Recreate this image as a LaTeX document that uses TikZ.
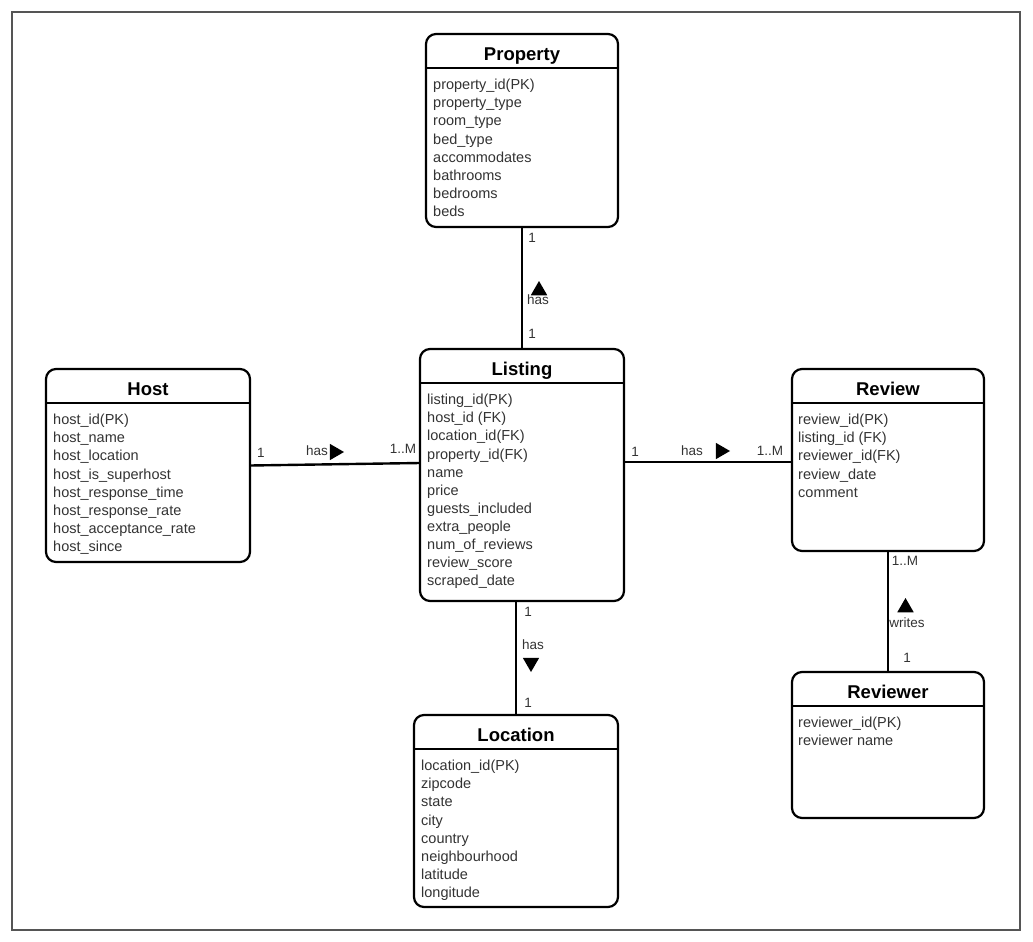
\documentclass[tikz,border=0pt]{standalone}
\usepackage{fontspec}
\setmainfont{Liberation Sans}
\usepackage{tikz}
\usepackage{xcolor}
\usetikzlibrary{positioning, shapes.geometric, calc}
\definecolor{EntInk}{HTML}{000000}
\definecolor{AttrInk}{HTML}{333333}
\definecolor{FrameInk}{HTML}{555555}

\begin{document}
\begin{tikzpicture}[
    x=1pt, y=-1pt,
    entity/.style={
      draw=EntInk,
      line width=2.2pt,
      rounded corners=10pt,
      fill=white,
      inner sep=0pt,
      outer sep=0pt,
    },
    etitle/.style={
      anchor=base,
      inner sep=0pt,
      text=EntInk,
      font=\fontsize{18.5}{20}\selectfont\bfseries,
    },
    attrs/.style={
      anchor=north west,
      align=left,
      inner sep=0pt,
      text=AttrInk,
      font=\fontsize{14.5}{18.1}\selectfont,
    },
    hrule/.style={line width=2pt, draw=EntInk},
    rel/.style={line width=2.4pt, draw=EntInk},
    card/.style={inner sep=0pt, text=AttrInk, font=\fontsize{13.5}{15}\selectfont},
    dirmark/.style={
      regular polygon,
      regular polygon sides=3,
      fill=EntInk,
      inner sep=0pt,
      minimum size=19pt,
    },
  ]
    \useasboundingbox (0,0) rectangle (1033,942);
    \draw[FrameInk, line width=1.3pt] (12,12) rectangle (1020,930);

    % entities
    \node[entity, minimum width=192pt, minimum height=193pt] (property) at (522,130.5) {};
    \node[entity, minimum width=204pt, minimum height=193pt] (host) at (148,465.5) {};
    \node[entity, minimum width=204pt, minimum height=252pt] (listing) at (522,475) {};
    \node[entity, minimum width=192pt, minimum height=182pt] (review) at (888,460) {};
    \node[entity, minimum width=192pt, minimum height=146pt] (reviewer) at (888,745) {};
    \node[entity, minimum width=204pt, minimum height=192pt] (location) at (516,811) {};

    \foreach \ent/\name in {property/Property, host/Host, listing/Listing,
                            review/Review, reviewer/Reviewer, location/Location} {
      \node[etitle] (\ent-title) at ([yshift=-26pt]\ent.north) {\name};
      \draw[hrule] ([yshift=-34pt]\ent.north west) -- ([yshift=-34pt]\ent.north east);
    }

    \node[attrs] (property-attrs) at ([xshift=7pt,yshift=-45pt]property.north west) {%
      property\_id(PK)\\ property\_type\\ room\_type\\ bed\_type\\
      accommodates\\ bathrooms\\ bedrooms\\ beds};
    \node[attrs] (host-attrs) at ([xshift=7pt,yshift=-45pt]host.north west) {%
      host\_id(PK)\\ host\_name\\ host\_location\\ host\_is\_superhost\\
      host\_response\_time\\ host\_response\_rate\\ host\_acceptance\_rate\\ host\_since};
    \node[attrs] (listing-attrs) at ([xshift=7pt,yshift=-45pt]listing.north west) {%
      listing\_id(PK)\\ host\_id (FK)\\ location\_id(FK)\\ property\_id(FK)\\
      name\\ price\\ guests\_included\\ extra\_people\\ num\_of\_reviews\\
      review\_score\\ scraped\_date};
    \node[attrs] (review-attrs) at ([xshift=6pt,yshift=-45pt]review.north west) {%
      review\_id(PK)\\ listing\_id (FK)\\ reviewer\_id(FK)\\ review\_date\\ comment};
    \node[attrs] (reviewer-attrs) at ([xshift=6pt,yshift=-45pt]reviewer.north west) {%
      reviewer\_id(PK)\\ reviewer name};
    \node[attrs] (location-attrs) at ([xshift=7pt,yshift=-45pt]location.north west) {%
      location\_id(PK)\\ zipcode\\ state\\ city\\ country\\ neighbourhood\\
      latitude\\ longitude};

    % relationships
    \draw[rel] (property.south) -- (listing.north);
    \draw[rel] (host.east) -- ([yshift=12pt]listing.west);
    \draw[rel] ([yshift=13pt]listing.east) -- ([yshift=-2pt]review.west);
    \draw[rel] (location.north |- listing.south) -- (location.north);
    \draw[rel] (review.south) -- (reviewer.north);

    \node[card] (pl-one) at (532,238) {1};
    \node[dirmark] (pl-dir) at (539,290.5) {};
    \node[card] (pl-has) at (538,300) {has};
    \node[card] (pl-one2) at (532,334) {1};

    \node[card] (hl-one) at (261,453) {1};
    \node[card] (hl-has) at (317,451) {has};
    \node[dirmark, shape border rotate=-90] (hl-dir) at (334.5,452) {};
    \node[card] (hl-many) at (403,449) {1..M};

    \node[card] (lr-one) at (635,452) {1};
    \node[card] (lr-has) at (692,451) {has};
    \node[dirmark, shape border rotate=-90] (lr-dir) at (720.5,451) {};
    \node[card] (lr-many) at (770,451) {1..M};

    \node[card] (ll-one) at (528,612) {1};
    \node[card] (ll-has) at (533,645) {has};
    \node[dirmark, shape border rotate=180] (ll-dir) at (531,662.5) {};
    \node[card] (ll-one2) at (528,703) {1};

    \node[card] (rr-many) at (905,561) {1..M};
    \node[dirmark] (rr-dir) at (905.5,607.5) {};
    \node[card] (rr-writes) at (907,623) {writes};
    \node[card] (rr-one) at (907,658) {1};
  \end{tikzpicture}
\end{document}
